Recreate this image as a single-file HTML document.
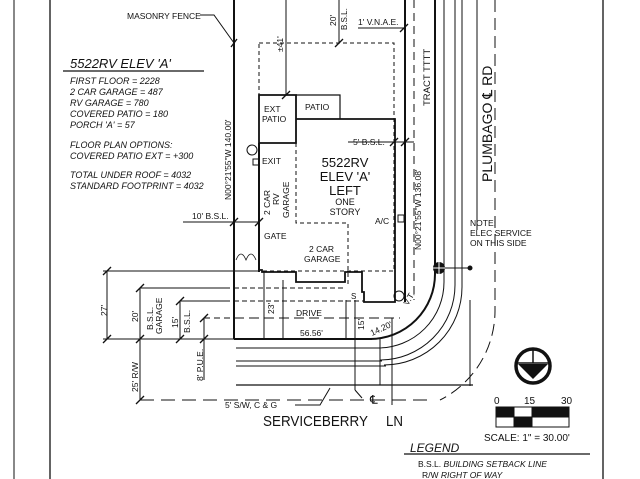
<!DOCTYPE html>
<html><head><meta charset="utf-8"><style>
html,body{margin:0;padding:0;background:#fff}
svg{display:block}
text{font-family:"Liberation Sans",sans-serif;fill:#111}
.i{font-style:italic}
</style></head><body>
<svg width="640" height="479" viewBox="0 0 640 479" xmlns="http://www.w3.org/2000/svg">
<g stroke="#111" fill="none">
<line x1="14" y1="0" x2="14" y2="479" stroke-width="1"/>
<line x1="50" y1="0" x2="50" y2="479" stroke-width="1.3"/>
<line x1="603" y1="0" x2="603" y2="479" stroke-width="1.3"/>
<line x1="234" y1="0" x2="234" y2="339" stroke-width="2"/>
<polyline points="200,15 214,15 234,43" stroke-width="1"/>
<line x1="286" y1="0" x2="286" y2="95" stroke-width="1"/>
<line x1="339" y1="0" x2="339" y2="43" stroke-width="1"/>
<rect x="259" y="43" width="135" height="228" stroke-dasharray="4,3" stroke-width="1"/>
<line x1="358" y1="28" x2="404" y2="28" stroke-width="1"/>
<line x1="348" y1="142" x2="414" y2="142" stroke-width="1"/>
<line x1="183" y1="222" x2="259" y2="222" stroke-width="1"/>
<path d="M259,95 H296 V143 H259 Z" stroke-width="1.8"/>
<path d="M296,95 H340 V119" stroke-width="1.2"/>
<path d="M296,119 H395 V302 H364 V292 H362 V272 H345 V282 H296 V272 H262 V270 H259 V143" stroke-width="1.8"/>
<line x1="259" y1="143" x2="259" y2="272" stroke-width="2"/>
<path d="M296,143 V223 H348 V285" stroke-dasharray="4,3" stroke-width="1"/>
<line x1="405" y1="0" x2="405" y2="302" stroke-width="2"/>
<line x1="414" y1="0" x2="414" y2="300" stroke-dasharray="8,5" stroke-width="1"/>
<path d="M435,0 V274 A65,65 0 0 1 370,339" stroke-width="2"/>
<path d="M444,0 V282 A66,66 0 0 1 378,348" stroke-width="1"/>
<path d="M455,0 V285 A75,75 0 0 1 380,360" stroke-width="1"/>
<path d="M462,0 V287 A78,78 0 0 1 384,365" stroke-width="1"/>
<line x1="477" y1="0" x2="477" y2="230" stroke-width="1"/>
<path d="M495,0 V310 A100,100 0 0 1 440,400" stroke-dasharray="12,6" stroke-width="1"/>
<line x1="470" y1="300" x2="470" y2="386" stroke-width="1"/>
<line x1="234" y1="339" x2="372" y2="339" stroke-width="2"/>
<line x1="236" y1="348" x2="380" y2="348" stroke-width="1"/>
<line x1="236" y1="361" x2="382" y2="361" stroke-width="1"/>
<line x1="236" y1="366" x2="386" y2="366" stroke-width="1"/>
<line x1="236" y1="385" x2="473" y2="385" stroke-width="1.2"/>
<line x1="140" y1="400" x2="430" y2="400" stroke-dasharray="14,7" stroke-width="1"/>
<line x1="107" y1="271" x2="107" y2="339" stroke-width="1"/>
<line x1="140" y1="288" x2="140" y2="400" stroke-width="1"/>
<line x1="180" y1="301" x2="180" y2="339" stroke-width="1"/>
<line x1="204" y1="318" x2="204" y2="380" stroke-width="1"/>
<line x1="103" y1="339" x2="234" y2="339" stroke-width="1"/>
<line x1="103" y1="271" x2="259" y2="271" stroke-width="1"/>
<line x1="140" y1="288" x2="230" y2="288" stroke-width="1"/>
<line x1="234" y1="288" x2="345" y2="288" stroke-dasharray="5,3" stroke-width="1"/>
<line x1="180" y1="301" x2="230" y2="301" stroke-width="1"/>
<line x1="234" y1="301" x2="364" y2="301" stroke-dasharray="5,3" stroke-width="1"/>
<line x1="204" y1="318" x2="234" y2="318" stroke-dasharray="6,4" stroke-width="1"/>
<line x1="234" y1="318" x2="400" y2="318" stroke-dasharray="10,5" stroke-width="1"/>
<line x1="264" y1="271" x2="264" y2="339" stroke-width="1"/>
<line x1="283" y1="280" x2="283" y2="339" stroke-width="1"/>
<line x1="346" y1="300" x2="346" y2="339" stroke-width="1"/>
<line x1="355" y1="300" x2="355" y2="390" stroke-width="1"/>
<line x1="355" y1="390" x2="362" y2="398" stroke-width="1"/>
<line x1="392" y1="318" x2="392" y2="405" stroke-width="1"/>
<line x1="380" y1="339" x2="380" y2="385" stroke-width="1"/>
<g stroke-width="1.3">
<line x1="103" y1="275" x2="111" y2="267"/><line x1="103" y1="343" x2="111" y2="335"/>
<line x1="136" y1="292" x2="144" y2="284"/><line x1="136" y1="343" x2="144" y2="335"/><line x1="136" y1="404" x2="144" y2="396"/>
<line x1="176" y1="305" x2="184" y2="297"/><line x1="176" y1="343" x2="184" y2="335"/>
<line x1="200" y1="322" x2="208" y2="314"/><line x1="200" y1="343" x2="208" y2="335"/>
<line x1="230" y1="226" x2="238" y2="218"/><line x1="255" y1="226" x2="263" y2="218"/>
<line x1="390" y1="146" x2="398" y2="138"/><line x1="401" y1="146" x2="409" y2="138"/>
<line x1="400" y1="32" x2="408" y2="24"/><line x1="335" y1="47" x2="343" y2="39"/><line x1="282" y1="99" x2="290" y2="91"/>
<line x1="231" y1="47" x2="237" y2="39"/>
</g>
<polyline points="295,405 320,405 330,388" stroke-width="1"/>
<line x1="440" y1="268" x2="470" y2="268" stroke-width="1"/>
<circle cx="470" cy="268" r="2" fill="#111"/>
<circle cx="252" cy="150" r="5" stroke-width="1"/>
<circle cx="399" cy="296" r="5" stroke-width="1"/>
<rect x="253" y="159" width="6" height="6" stroke-width="1"/>
<rect x="398" y="215" width="6" height="7" stroke-width="1"/>
<path d="M236,260 q5,-12 10,0 q5,-12 10,0" stroke-width="0.8"/>
<circle cx="533" cy="366" r="17" stroke-width="3.5"/>
<line x1="533" y1="349" x2="533" y2="363" stroke-width="1.5"/>
<line x1="517" y1="363" x2="549" y2="363" stroke-width="1.5"/>
<line x1="404" y1="454" x2="590" y2="454" stroke-width="1.3"/>
<line x1="63" y1="71" x2="204" y2="71" stroke-width="1.3"/>
</g>
<circle cx="439" cy="268" r="6" fill="#111"/>
<path d="M433,268 h12 M439,262 v12" stroke="#fff" stroke-width="1"/>
<path d="M518,364 H548 L533,379 Z" fill="#111"/>
<g stroke="#111" stroke-width="1">
<rect x="496" y="407" width="73" height="20" fill="#fff"/>
<rect x="496" y="407" width="18" height="10" fill="#111"/>
<rect x="532" y="407" width="37" height="10" fill="#111"/>
<rect x="514" y="417" width="18" height="10" fill="#111"/>
</g>
<text x="494" y="404" font-size="10">0</text>
<text x="524" y="404" font-size="10">15</text>
<text x="561" y="404" font-size="10">30</text>
<text x="484" y="441" font-size="10">SCALE: 1" = 30.00'</text>
<text x="410" y="452" font-size="12" class="i">LEGEND</text>
<text x="418" y="467" font-size="8.5">B.S.L. <tspan class="i">BUILDING SETBACK LINE</tspan></text>
<text x="422" y="478" font-size="8.5">R/W  <tspan class="i">RIGHT OF WAY</tspan></text>
<text x="127" y="19" font-size="8.5">MASONRY FENCE</text>
<text x="70" y="68" font-size="13" class="i">5522RV ELEV 'A'</text>
<g font-size="9" class="i">
<text x="70" y="84">FIRST FLOOR = 2228</text>
<text x="70" y="95">2 CAR GARAGE = 487</text>
<text x="70" y="106">RV GARAGE = 780</text>
<text x="70" y="117">COVERED PATIO = 180</text>
<text x="70" y="128">PORCH 'A' = 57</text>
<text x="70" y="148">FLOOR PLAN OPTIONS:</text>
<text x="70" y="159">COVERED PATIO EXT = +300</text>
<text x="70" y="178">TOTAL UNDER ROOF = 4032</text>
<text x="70" y="189">STANDARD FOOTPRINT = 4032</text>
</g>
<g font-size="8.5">
<text transform="translate(231,200) rotate(-90)">N00°21'55"W  140.00'</text>
<text transform="translate(421,250) rotate(-90)">N00°21'55"W  136.08'</text>
<text transform="translate(430,106) rotate(-90)" font-size="9.5">TRACT TTTT</text>
<text transform="translate(283,52) rotate(-90)">±41'</text>
<text transform="translate(336,26) rotate(-90)">20'</text>
<text transform="translate(347,30) rotate(-90)" font-size="8">B.S.L.</text>
<text x="358" y="25">1' V.N.A.E.</text>
<text x="353" y="145">5' B.S.L.</text>
<text x="192" y="219">10' B.S.L.</text>
<text x="264" y="112">EXT</text>
<text x="262" y="122">PATIO</text>
<text x="305" y="110">PATIO</text>
<text x="262" y="164">EXIT</text>
<text x="264" y="239">GATE</text>
<text transform="translate(270,215) rotate(-90)">2 CAR</text>
<text transform="translate(279,205) rotate(-90)">RV</text>
<text transform="translate(289,218) rotate(-90)">GARAGE</text>
<text x="309" y="252">2 CAR</text>
<text x="304" y="262">GARAGE</text>
<text x="375" y="224">A/C</text>
<text x="296" y="316">DRIVE</text>
<text x="300" y="336">56.56'</text>
<text transform="translate(274,314) rotate(-90)">23'</text>
<text transform="translate(364,330) rotate(-90)">15'</text>
<text transform="translate(372,336) rotate(-25)">14.20'</text>
<text transform="translate(408,306) rotate(-60)">V.T.</text>
<text transform="translate(107,316) rotate(-90)">27'</text>
<text transform="translate(138,322) rotate(-90)">20'</text>
<text transform="translate(153,330) rotate(-90)">B.S.L.</text>
<text transform="translate(162,334) rotate(-90)">GARAGE</text>
<text transform="translate(178,328) rotate(-90)">15'</text>
<text transform="translate(190,333) rotate(-90)">B.S.L.</text>
<text transform="translate(203,381) rotate(-90)">8' P.U.E.</text>
<text transform="translate(138,392) rotate(-90)">25' R/W</text>
<text x="225" y="408">5' S/W, C &amp; G</text>
<text x="470" y="226">NOTE:</text>
<text x="470" y="236">ELEC SERVICE</text>
<text x="470" y="246">ON THIS SIDE</text>
<text x="351" y="299" font-size="8">S</text>
</g>
<g font-size="13" text-anchor="middle">
<text x="345" y="167">5522RV</text>
<text x="345" y="181">ELEV 'A'</text>
<text x="345" y="195">LEFT</text>
</g>
<g font-size="9" text-anchor="middle">
<text x="345" y="205">ONE</text>
<text x="345" y="215">STORY</text>
</g>
<text transform="translate(492,182) rotate(-90)" font-size="14">PLUMBAGO  ℄  RD</text>
<text x="263" y="426" font-size="15" textLength="105" lengthAdjust="spacingAndGlyphs">SERVICEBERRY</text>
<text x="386" y="426" font-size="15" textLength="17" lengthAdjust="spacingAndGlyphs">LN</text>
<text x="370" y="404" font-size="12">℄</text>
</svg>
</body></html>
